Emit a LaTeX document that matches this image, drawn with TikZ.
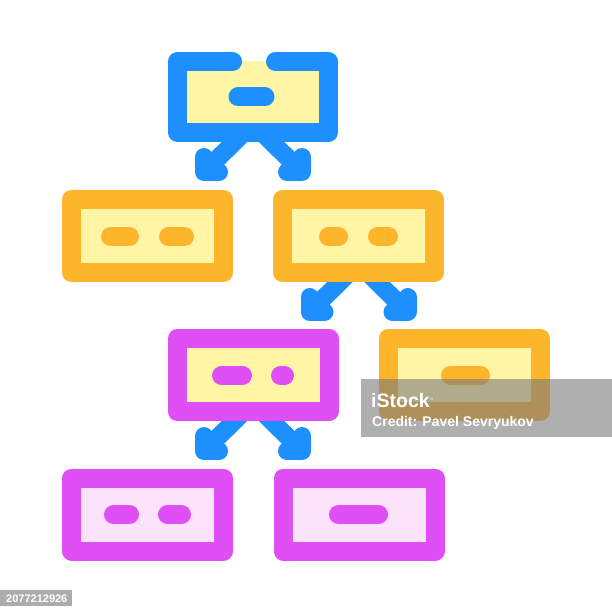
\documentclass[tikz,border=0pt]{standalone}
\usepackage{fontspec}
\setmainfont{Liberation Sans}
\usetikzlibrary{calc}
\pgfdeclarelayer{bg}
\pgfsetlayers{bg,main}
\definecolor{blueC}{HTML}{1E8FFF}
\definecolor{orangeC}{HTML}{FDB52B}
\definecolor{yelC}{HTML}{FFF5A5}
\definecolor{magC}{HTML}{DF4FF5}
\definecolor{pinkC}{HTML}{FDE2FB}
\definecolor{wmC}{HTML}{7A7A7A}
\begin{document}
\begin{tikzpicture}[x=1pt,y=-1pt,
  box/.style={rectangle, draw=#1, line width=19pt, line join=round, inner sep=0pt, outer sep=0pt,
    minimum width=152pt, minimum height=73pt},
  pill/.style={draw=#1, line width=19pt, line cap=round},
  shaft/.style={draw=blueC, line width=18pt},
  head/.style={draw=blueC, line width=18pt, line cap=round, line join=round},
  wmtext/.style={text=white, font=\bfseries, inner sep=0pt, anchor=base west}]
\useasboundingbox (0,0) rectangle (612,612);

% top box (fill as node, frame with gap drawn below)
\node[rectangle, fill=yelC, inner sep=0pt, outer sep=0pt, minimum width=151pt, minimum height=71pt] (t) at (253,97) {};
\draw[blueC, line width=19pt, line cap=round, line join=round]
  (232.5,61.5) -- (t.north west) -- (t.south west) -- (t.south east) -- (t.north east) -- (275.5,61.5);
\draw[pill=blueC] (238,97) -- (265,97);

% boxes
\node[box=orangeC, fill=yelC] (ol) at (147.5,236) {};
\node[box=orangeC, fill=yelC] (or) at (358.5,236) {};
\node[box=magC, fill=yelC] (mm) at (253,375) {};
\node[box=orangeC, fill=yelC] (mr) at (464,375) {};
\node[box=magC, fill=pinkC] (bl) at (147.5,514.5) {};
\node[box=magC, fill=pinkC] (br) at (359,514.5) {};

% arrows (behind boxes)
\begin{pgfonlayer}{bg}
\fill[white] (0,0) rectangle (612,612);
\foreach \n in {t,or,mm}{
  \draw[shaft] ($(\n.south)+(-9,0)$) -- ($(\n.south)+(-49,39.5)$);
  \draw[head] ($(\n.south)+(-49,24.5)$) -- ($(\n.south)+(-49,39.5)$) -- ($(\n.south)+(-34,39.5)$);
  \draw[shaft] ($(\n.south)+(9,0)$) -- ($(\n.south)+(49,39.5)$);
  \draw[head] ($(\n.south)+(49,24.5)$) -- ($(\n.south)+(49,39.5)$) -- ($(\n.south)+(34,39.5)$);
}
\end{pgfonlayer}

% pills
\draw[pill=orangeC] (110.5,236.5) -- (129.5,236.5);
\draw[pill=orangeC] (168.5,236.5) -- (184.5,236.5);
\draw[pill=orangeC] (328.5,236.5) -- (338.5,236.5);
\draw[pill=orangeC] (377.5,236.5) -- (388.5,236.5);
\draw[pill=magC] (221.5,375.5) -- (242.5,375.5);
\draw[pill=magC] (280.5,375.5) -- (284.5,375.5);
\draw[pill=orangeC] (450.5,375.5) -- (480.5,375.5);
\draw[pill=magC] (113.5,514.5) -- (129.5,514.5);
\draw[pill=magC] (167.5,514.5) -- (181.5,514.5);
\draw[pill=magC] (338.5,514.5) -- (378.5,514.5);

% watermark
\fill[wmC, opacity=0.6] (361,379) rectangle (612,437);
\node[wmtext, font=\bfseries\fontsize{19.5}{20}\selectfont] (ist) at (371,407) {iStock\raisebox{6pt}{\fontsize{4}{4}\selectfont ™}};
\node[wmtext, font=\bfseries\fontsize{14}{15}\selectfont] (cred) at (372,426) {Credit: Pavel Sevryukov};
\fill[gray!65] (0,590) rectangle (72,606);
\node[wmtext, font=\bfseries\fontsize{11}{12}\selectfont] (id) at (6,602) {2077212926};
\end{tikzpicture}
\end{document}
